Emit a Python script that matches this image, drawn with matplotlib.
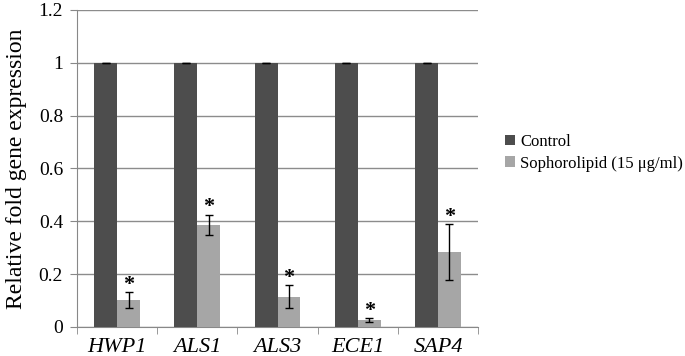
import numpy as np
import matplotlib
matplotlib.use('Agg')
from matplotlib import pyplot as plt
from matplotlib.ticker import FuncFormatter

genes = ['HWP1', 'ALS1', 'ALS3', 'ECE1', 'SAP4']
control = [1.0, 1.0, 1.0, 1.0, 1.0]
control_err = [0.0, 0.0, 0.0, 0.0, 0.0]
sl = [0.102, 0.387, 0.115, 0.027, 0.283]
sl_err = [0.030, 0.038, 0.043, 0.008, 0.107]
labels = ['Control', u'Sophorolipid (15 \u03bcg/ml)']

plt.rcParams['font.family'] = ['Liberation Serif', 'DejaVu Serif']

fig = plt.figure(figsize=(6.85, 3.56), dpi=100)
ax = fig.add_axes([0.1124, 0.0815, 0.5856, 0.8905])

x = np.arange(len(genes))
w = 2.0 / 7.0
ekw = dict(ecolor='black', elinewidth=1, capsize=3, capthick=1)
ax.bar(x - w / 2, control, w, yerr=control_err, color='#4d4d4d',
       label=labels[0], error_kw=ekw, zorder=3)
ax.bar(x + w / 2, sl, w, yerr=sl_err, color='#a6a6a6',
       label=labels[1], error_kw=ekw, zorder=3)

# significance stars
for xi, v, e in zip(x, sl, sl_err):
    ax.annotate('*', (xi + w / 2, v + e), xytext=(0, -2), textcoords='offset points',
                ha='center', va='bottom', fontsize=16, fontweight='bold')

ax.set_xlim(-0.5, len(genes) - 0.5)
ax.set_ylim(0, 1.2)
ax.set_yticks(np.arange(0, 1.21, 0.2))
ax.yaxis.set_major_formatter(FuncFormatter(lambda v, p: '%g' % round(v, 1)))
ax.set_xticks(x)
ax.set_xticklabels(genes, fontstyle='italic', fontsize=16)
ax.set_xticks(np.arange(-0.5, len(genes), 1.0), minor=True)
ax.tick_params(axis='x', which='major', length=0, pad=8)
ax.tick_params(axis='x', which='minor', length=5, color='#888888', direction='out')
ax.tick_params(axis='y', length=5, color='#888888', labelsize=14, pad=5)
ax.grid(axis='y', color='#8c8c8c', linewidth=1, zorder=0)

for s in ['top', 'right']:
    ax.spines[s].set_visible(False)
for s in ['left', 'bottom']:
    ax.spines[s].set_color('#888888')

ax.set_ylabel('Relative fold gene expression', fontsize=17, labelpad=8)

ax.legend(loc='center left', bbox_to_anchor=(1.03, 0.55), frameon=False,
          fontsize=12, handlelength=0.6, handleheight=0.6, handletextpad=0.3,
          labelspacing=0.35)

fig.savefig('out.png', dpi=100)
